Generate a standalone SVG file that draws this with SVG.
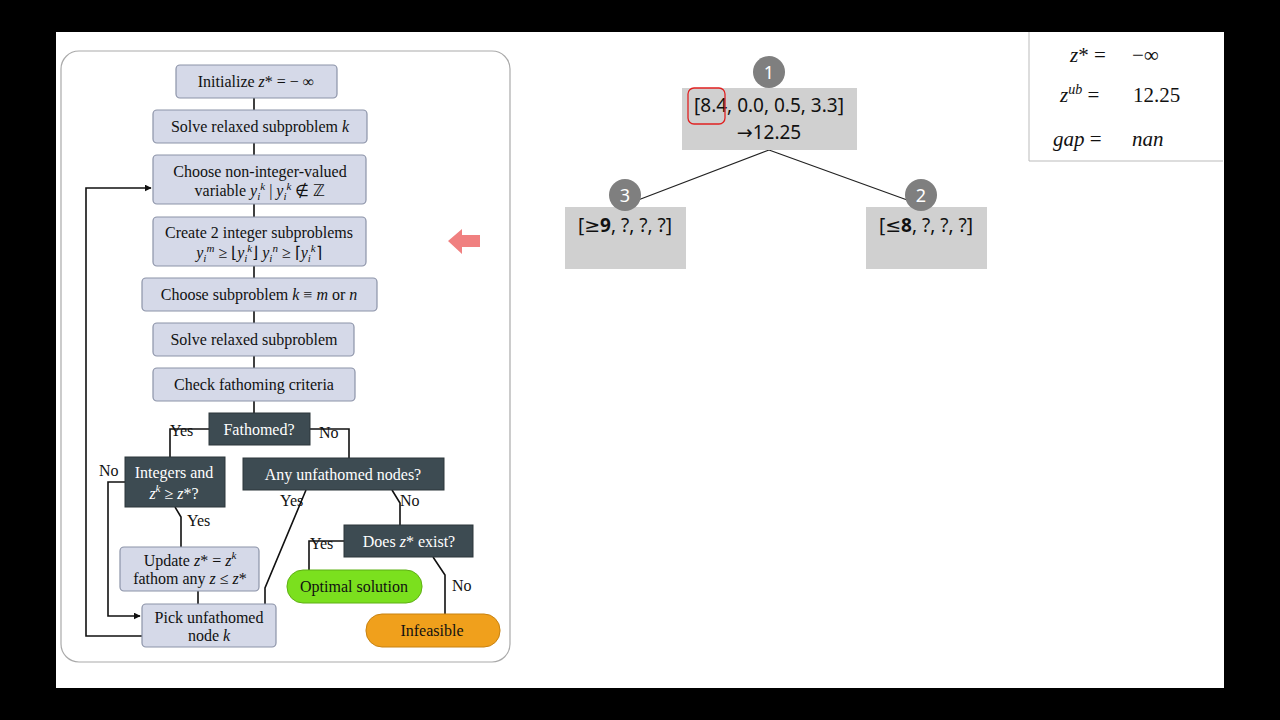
<svg xmlns="http://www.w3.org/2000/svg" width="1280" height="720" viewBox="0 0 1280 720">
<style>
.lb{fill:#d5d9e8;stroke:#8c93a8;stroke-width:1.2}
.db{fill:#3d4b52;stroke:#2c363b;stroke-width:1}
.t{font-family:"Liberation Serif",serif;font-size:16px;fill:#111;text-anchor:middle}
.tw{font-family:"Liberation Serif",serif;font-size:16px;fill:#fff;text-anchor:middle}
.lbl{font-family:"Liberation Serif",serif;font-size:16px;fill:#111}
.ln{fill:none;stroke:#111;stroke-width:1.6}
.tr{font-family:"Noto Sans","DejaVu Sans",sans-serif;font-size:19px;fill:#111;text-anchor:middle}
.gb{fill:#d0d0d0}
.c{fill:#7f7f7f}
.ct{font-family:"Noto Sans",sans-serif;font-size:18px;fill:#fff;text-anchor:middle}
.m{font-family:"Liberation Serif",serif;font-size:21px;fill:#111}
i,.it{font-style:italic}
</style>
<defs>
<marker id="ah" viewBox="0 0 10 10" refX="9" refY="5" markerWidth="7" markerHeight="7" orient="auto" markerUnits="userSpaceOnUse"><path d="M0,0 L10,5 L0,10 z" fill="#111"/></marker>
</defs>
<rect width="1280" height="720" fill="#000"/>
<rect x="56" y="32" width="1168" height="656" fill="#fff"/>
<rect x="61" y="51" width="449" height="611" rx="18" fill="#fff" stroke="#aaa" stroke-width="1.2"/>

<g id="connectors">
<path class="ln" d="M254,98 V110 M254,143 V155 M254,204 V217 M254,266 V278 M254,311 V323 M254,356 V368 M254,401 V413"/>
<path class="ln" d="M209,429 H170 V457 M310,429 H349 V458"/>
<path class="ln" d="M175,507 L181,517 V547 M198,591 V604"/>
<path class="ln" d="M306,490 L265,588 V604"/>
<path class="ln" d="M392,490 L400,503 V525"/>
<path class="ln" d="M344,541 H309 V570 M433,557 L445,575 V614"/>
<path class="ln" d="M125,482 H108 V616 H140" marker-end="url(#ah)"/>
<path class="ln" d="M142,636 H86 V188 H151" marker-end="url(#ah)"/>
<path d="M769,150 L625,205 M769,150 L921,205" stroke="#222" stroke-width="1.2" fill="none"/>
</g>

<g id="n-init"><rect class="lb" x="176" y="65" width="161" height="33" rx="4"/><text class="t" x="256" y="87">Initialize  <tspan class="it">z</tspan>* = − ∞</text></g>
<g id="n-solvek"><rect class="lb" x="153" y="110" width="214" height="33" rx="4"/><text class="t" x="260" y="132">Solve relaxed subproblem <tspan class="it">k</tspan></text></g>
<g id="n-choose"><rect class="lb" x="153" y="155" width="213" height="49" rx="4"/><text class="t" x="260" y="177">Choose non-integer-valued</text><text class="t" x="260" y="196">variable  <tspan class="it">y</tspan><tspan font-size="11" class="it" dy="4">i</tspan><tspan font-size="11" class="it" dy="-10">k</tspan><tspan dy="6"> | </tspan><tspan class="it">y</tspan><tspan font-size="11" class="it" dy="4">i</tspan><tspan font-size="11" class="it" dy="-10">k</tspan><tspan dy="6"> ∉ ℤ</tspan></text></g>
<g id="n-create"><rect class="lb" x="153" y="217" width="213" height="49" rx="4"/><text class="t" x="259" y="238">Create 2 integer subproblems</text><text class="t" x="259" y="258"><tspan class="it">y</tspan><tspan font-size="11" class="it" dy="4">i</tspan><tspan font-size="11" class="it" dy="-10">m</tspan><tspan dy="6"> ≥ ⌊</tspan><tspan class="it">y</tspan><tspan font-size="11" class="it" dy="4">i</tspan><tspan font-size="11" class="it" dy="-10">k</tspan><tspan dy="6">⌋          </tspan><tspan class="it">y</tspan><tspan font-size="11" class="it" dy="4">i</tspan><tspan font-size="11" class="it" dy="-10">n</tspan><tspan dy="6"> ≥ ⌈</tspan><tspan class="it">y</tspan><tspan font-size="11" class="it" dy="4">i</tspan><tspan font-size="11" class="it" dy="-10">k</tspan><tspan dy="6">⌉</tspan></text></g>
<g id="n-choosesub"><rect class="lb" x="142" y="278" width="235" height="33" rx="4"/><text class="t" x="259" y="300">Choose subproblem <tspan class="it">k</tspan> ≡ <tspan class="it">m</tspan> or <tspan class="it">n</tspan></text></g>
<g id="n-solve"><rect class="lb" x="153" y="323" width="201" height="33" rx="4"/><text class="t" x="254" y="345">Solve relaxed subproblem</text></g>
<g id="n-check"><rect class="lb" x="153" y="368" width="202" height="33" rx="4"/><text class="t" x="254" y="390">Check fathoming criteria</text></g>
<g id="n-fath"><rect class="db" x="209" y="413" width="101" height="32"/><text class="tw" x="259" y="435">Fathomed?</text></g>
<g id="n-int"><rect class="db" x="125" y="457" width="100" height="50"/><text class="tw" x="174" y="478">Integers and</text><text class="tw" x="174" y="499"><tspan class="it">z</tspan><tspan font-size="11" class="it" dy="-7">k</tspan><tspan dy="7"> ≥ </tspan><tspan class="it">z</tspan>*?</text></g>
<g id="n-any"><rect class="db" x="243" y="458" width="201" height="32"/><text class="tw" x="343" y="480">Any unfathomed nodes?</text></g>
<g id="n-does"><rect class="db" x="344" y="525" width="129" height="32"/><text class="tw" x="409" y="547">Does  <tspan class="it">z</tspan>* exist?</text></g>
<g id="n-update"><rect class="lb" x="120" y="547" width="139" height="44" rx="4"/><text class="t" x="190" y="566">Update <tspan class="it">z</tspan>* = <tspan class="it">z</tspan><tspan font-size="11" class="it" dy="-7">k</tspan></text><text class="t" x="190" y="584">fathom any <tspan class="it">z</tspan> ≤ <tspan class="it">z</tspan>*</text></g>
<g id="n-pick"><rect class="lb" x="142" y="604" width="134" height="43" rx="4"/><text class="t" x="209" y="623">Pick unfathomed</text><text class="t" x="209" y="641">node <tspan class="it">k</tspan></text></g>
<g id="n-opt"><rect x="287" y="570" width="135" height="33" rx="16" fill="#7be01e" stroke="#5fb014"/><text class="t" x="354" y="592">Optimal solution</text></g>
<g id="n-inf"><rect x="366" y="614" width="134" height="33" rx="16" fill="#f0a01c" stroke="#c88210"/><text class="t" x="432" y="636">Infeasible</text></g>

<g id="labels">
<text class="lbl" x="170" y="436">Yes</text>
<text class="lbl" x="319" y="438">No</text>
<text class="lbl" x="99" y="476">No</text>
<text class="lbl" x="187" y="526">Yes</text>
<text class="lbl" x="280" y="506">Yes</text>
<text class="lbl" x="400" y="506">No</text>
<text class="lbl" x="310" y="549">Yes</text>
<text class="lbl" x="452" y="591">No</text>
</g>

<polygon id="pink-arrow" points="448,241 462,229 462,235 480,235 480,247 462,247 462,254" fill="#f08080"/>

<g id="t1"><rect class="gb" x="682" y="88" width="175" height="62"/><text class="tr" x="769" y="112">[8.4, 0.0, 0.5, 3.3]</text><text class="tr" x="769" y="139">→12.25</text><rect x="688" y="88" width="37" height="36" rx="6" fill="none" stroke="#e02020" stroke-width="1.3"/><circle class="c" cx="769" cy="72" r="16"/><text class="ct" x="769" y="79">1</text></g>
<g id="t3"><rect class="gb" x="565" y="207" width="121" height="62"/><text class="tr" x="625" y="232">[≥<tspan font-weight="bold">9</tspan>, ?, ?, ?]</text><circle class="c" cx="625" cy="195" r="16"/><text class="ct" x="625" y="202">3</text></g>
<g id="t2"><rect class="gb" x="866" y="207" width="121" height="62"/><text class="tr" x="926" y="232">[≤<tspan font-weight="bold">8</tspan>, ?, ?, ?]</text><circle class="c" cx="921" cy="195" r="16"/><text class="ct" x="921" y="202">2</text></g>

<g id="stats">
<path d="M1029,32 V161 H1223" fill="none" stroke="#bbb" stroke-width="1"/>
<text class="m" x="1070" y="62"><tspan class="it">z</tspan>* =</text><text class="m" x="1132" y="62">−∞</text>
<text class="m" x="1060" y="102"><tspan class="it">z</tspan><tspan class="it" font-size="14" dy="-8">ub</tspan><tspan dy="8"> =</tspan></text><text class="m" x="1133" y="102">12.25</text>
<text class="m" x="1053" y="146"><tspan class="it">gap</tspan> =</text><text class="m it" x="1132" y="146">nan</text>
</g>
</svg>
